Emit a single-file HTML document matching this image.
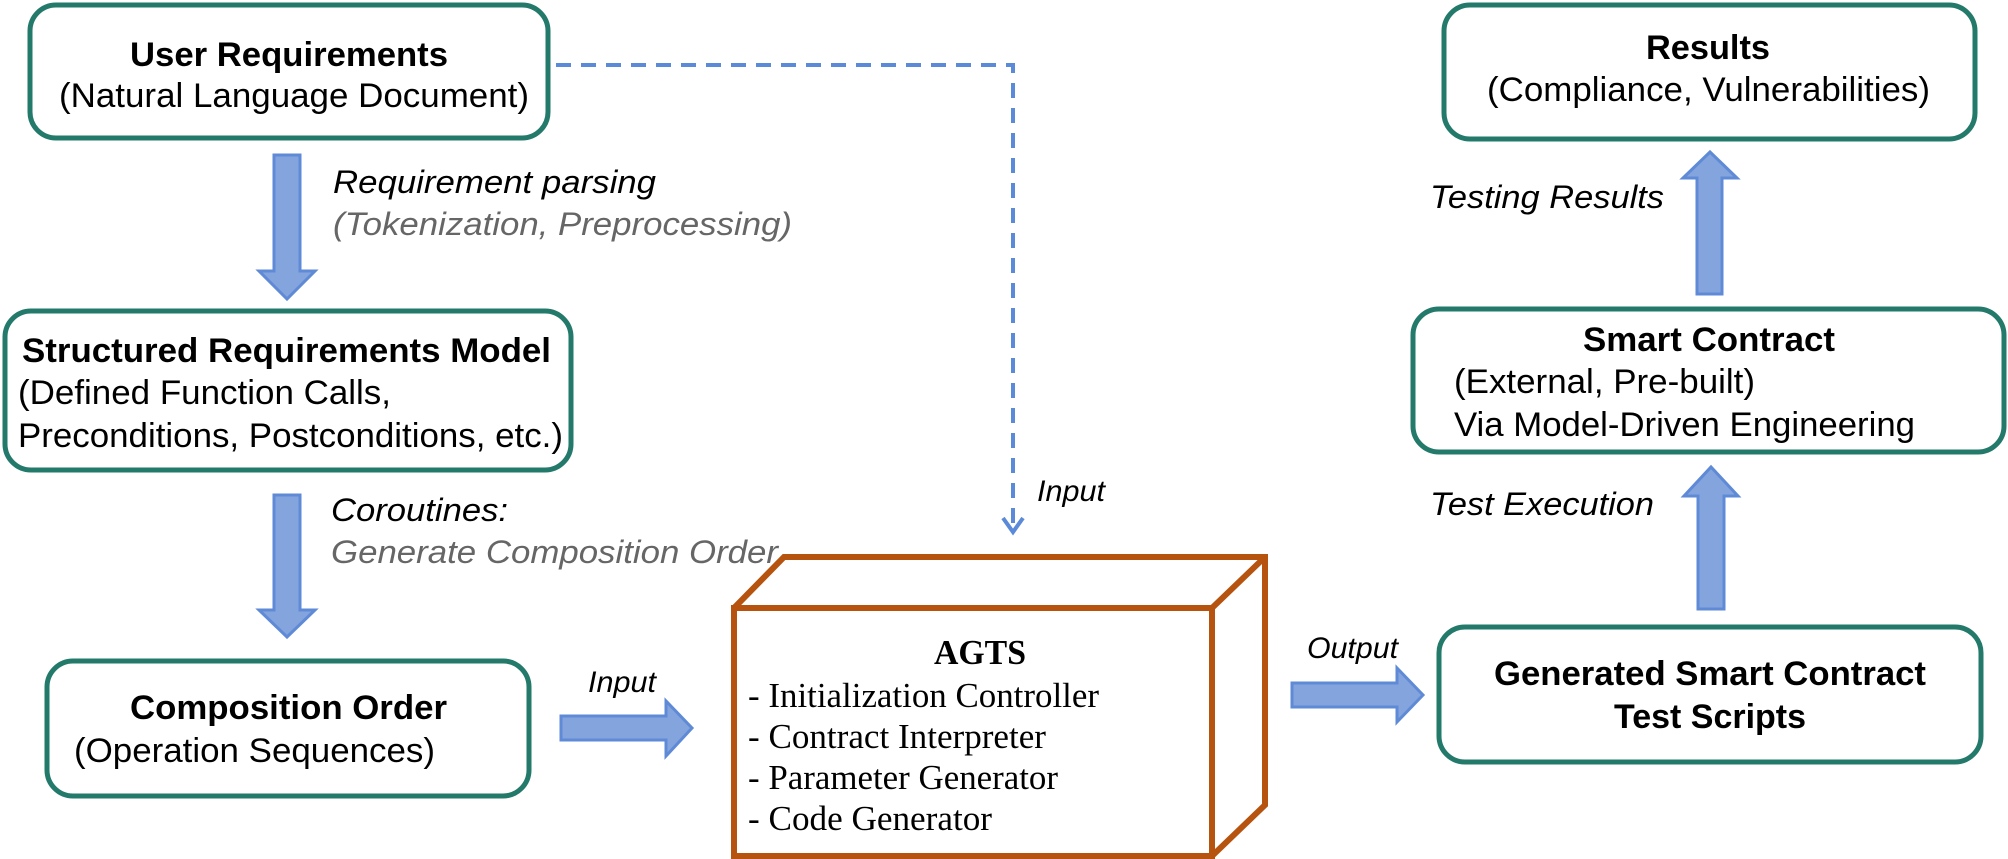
<!DOCTYPE html>
<html><head><meta charset="utf-8"><style>html,body{margin:0;padding:0;background:#fff}svg{display:block}</style></head>
<body>
<svg width="2008" height="859" viewBox="0 0 2008 859" xmlns="http://www.w3.org/2000/svg" font-family="Liberation Sans, Arial, sans-serif">
<g fill="#fff" stroke="#23796a" stroke-width="5">
<rect x="30" y="5" width="518" height="133" rx="26"/>
<rect x="5" y="311" width="566" height="159" rx="26"/>
<rect x="47" y="661" width="482" height="135" rx="26"/>
<rect x="1444" y="5" width="531" height="134" rx="26"/>
<rect x="1413" y="309" width="591" height="143" rx="26"/>
<rect x="1439" y="627" width="542" height="135" rx="26"/>
</g>
<g fill="none" stroke="#b5530f" stroke-width="6" stroke-linejoin="miter">
<rect x="734" y="608" width="478" height="248" fill="#fff"/>
<polyline points="734,608 784,557 1265,557 1265,805 1212,856"/>
<line x1="1212" y1="608" x2="1265" y2="557"/>
</g>
<polyline points="556,65 1013,65 1013,528" fill="none" stroke="#5b8ad8" stroke-width="4" stroke-dasharray="15,10"/>
<polyline points="1003,518 1013,532 1023,518" fill="none" stroke="#5b8ad8" stroke-width="4"/>
<g fill="#84a4dd" stroke="#5f8ad6" stroke-width="3" stroke-linejoin="miter">
<polygon points="274,155 300,155 300,271 315,271 287,299 259,271 274,271"/>
<polygon points="274,495 300,495 300,610 315,610 287,637 259,610 274,610"/>
<polygon points="561,716 666,716 666,701 692,728 666,756 666,740 561,740"/>
<polygon points="1292,683 1397,683 1397,668 1423,695 1397,722 1397,707 1292,707"/>
<polygon points="1697,294 1722,294 1722,178 1737,178 1710,152 1683,178 1697,178"/>
<polygon points="1698,609 1724,609 1724,496 1738,496 1711,467 1684,496 1698,496"/>
</g>
<g font-size="34" fill="#000">
<text x="130" y="66" font-weight="bold" textLength="318" lengthAdjust="spacingAndGlyphs">User Requirements</text>
<text x="59" y="107" textLength="470" lengthAdjust="spacingAndGlyphs">(Natural Language Document)</text>
<text x="333" y="193" font-size="32" font-style="italic" textLength="323" lengthAdjust="spacingAndGlyphs">Requirement parsing</text>
<text x="333" y="235" font-size="32" font-style="italic" fill="#666" textLength="459" lengthAdjust="spacingAndGlyphs">(Tokenization, Preprocessing)</text>
<text x="22" y="362" font-weight="bold" textLength="529" lengthAdjust="spacingAndGlyphs">Structured Requirements Model</text>
<text x="18" y="404" textLength="373" lengthAdjust="spacingAndGlyphs">(Defined Function Calls,</text>
<text x="18" y="447" textLength="545" lengthAdjust="spacingAndGlyphs">Preconditions, Postconditions, etc.)</text>
<text x="331" y="521" font-size="32" font-style="italic" textLength="177" lengthAdjust="spacingAndGlyphs">Coroutines:</text>
<text x="331" y="563" font-size="32" font-style="italic" fill="#666" textLength="447" lengthAdjust="spacingAndGlyphs">Generate Composition Order</text>
<text x="130" y="719" font-weight="bold" textLength="317" lengthAdjust="spacingAndGlyphs">Composition Order</text>
<text x="74" y="762" textLength="361" lengthAdjust="spacingAndGlyphs">(Operation Sequences)</text>
<text x="588" y="692" font-size="30" font-style="italic" textLength="68" lengthAdjust="spacingAndGlyphs">Input</text>
<text x="1037" y="501" font-size="30" font-style="italic" textLength="68" lengthAdjust="spacingAndGlyphs">Input</text>
<text x="1307" y="658" font-size="30" font-style="italic" textLength="91" lengthAdjust="spacingAndGlyphs">Output</text>
<text x="1646" y="59" font-weight="bold" textLength="124" lengthAdjust="spacingAndGlyphs">Results</text>
<text x="1487" y="101" textLength="443" lengthAdjust="spacingAndGlyphs">(Compliance, Vulnerabilities)</text>
<text x="1430" y="208" font-size="32" font-style="italic" textLength="234" lengthAdjust="spacingAndGlyphs">Testing Results</text>
<text x="1583" y="351" font-weight="bold" textLength="252" lengthAdjust="spacingAndGlyphs">Smart Contract</text>
<text x="1454" y="393" textLength="301" lengthAdjust="spacingAndGlyphs">(External, Pre-built)</text>
<text x="1454" y="436" textLength="461" lengthAdjust="spacingAndGlyphs">Via Model-Driven Engineering</text>
<text x="1430" y="515" font-size="32" font-style="italic" textLength="224" lengthAdjust="spacingAndGlyphs">Test Execution</text>
<text x="1494" y="685" font-weight="bold" textLength="432" lengthAdjust="spacingAndGlyphs">Generated Smart Contract</text>
<text x="1614" y="728" font-weight="bold" textLength="192" lengthAdjust="spacingAndGlyphs">Test Scripts</text>
</g>
<g font-family="Liberation Serif, Times New Roman, serif" font-size="35" fill="#000">
<text x="934" y="664" font-weight="bold" textLength="92" lengthAdjust="spacingAndGlyphs">AGTS</text>
<text x="748" y="707" textLength="351" lengthAdjust="spacingAndGlyphs">- Initialization Controller</text>
<text x="748" y="748" textLength="298" lengthAdjust="spacingAndGlyphs">- Contract Interpreter</text>
<text x="748" y="789" textLength="310" lengthAdjust="spacingAndGlyphs">- Parameter Generator</text>
<text x="748" y="830" textLength="244" lengthAdjust="spacingAndGlyphs">- Code Generator</text>
</g>
</svg>
</body></html>
